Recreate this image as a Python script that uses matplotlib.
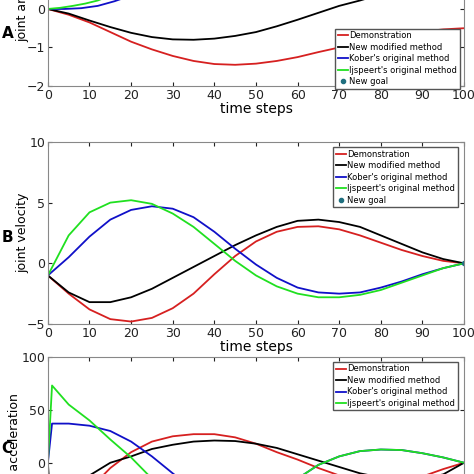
import matplotlib
matplotlib.use("Agg")
import matplotlib.pyplot as plt
import numpy as np

x5 = list(range(0, 101, 5))
pos_red = [0,-0.15,-0.35,-0.6,-0.85,-1.05,-1.22,-1.35,-1.43,-1.45,-1.42,-1.35,-1.25,-1.12,-1.0,-0.88,-0.77,-0.67,-0.59,-0.53,-0.5]
pos_black = [0,-0.12,-0.3,-0.47,-0.62,-0.73,-0.79,-0.8,-0.77,-0.7,-0.6,-0.45,-0.28,-0.1,0.08,0.22,0.38,0.53,0.65,0.72,0.75]
pos_blue_x = [0,4,8,12,16,20]
pos_blue = [0,0,0.02,0.08,0.2,0.35]
pos_green_x = [0,3,6,9,12,15]
pos_green = [0,0.03,0.08,0.14,0.22,0.35]

vel_red = [-1,-2.5,-3.8,-4.6,-4.8,-4.5,-3.7,-2.5,-0.9,0.6,1.8,2.6,3.0,3.05,2.8,2.3,1.7,1.1,0.6,0.2,0]
vel_black = [-1,-2.4,-3.2,-3.2,-2.8,-2.1,-1.2,-0.3,0.6,1.5,2.3,3.0,3.5,3.6,3.4,3.0,2.3,1.6,0.9,0.35,0]
vel_blue = [-1,0.5,2.2,3.6,4.4,4.7,4.5,3.8,2.6,1.2,-0.1,-1.2,-2.0,-2.4,-2.5,-2.4,-2.0,-1.5,-0.9,-0.4,0]
vel_green = [-1,2.3,4.2,5.0,5.2,4.9,4.1,3.0,1.6,0.2,-1.0,-1.9,-2.5,-2.8,-2.8,-2.6,-2.2,-1.6,-1.0,-0.4,0]

acc_x = [0,1] + x5[1:]
acc_red = [-70,-65,-45,-25,-5,10,20,25,27,27,24,18,10,3,-5,-12,-17,-19,-18,-13,-6,0]
acc_black = [0,-60,-50,-12,0,6,13,17,20,21,20.5,18,14,8,2,-4,-10,-14,-16,-15,-11,0]
acc_blue = [0,37,37,35,30,20,6,-10,-25,-38,-45,-42,-30,-15,-2,6,11,12.5,12,9,5,0]
acc_green = [0,73,55,40,22,5,-15,-35,-50,-55,-50,-42,-30,-15,-2,6,11,12.5,12,9,5,0]

labels = ["Demonstration", "New modified method", "Kober's original method", "Ijspeert's original method"]
cols = ["#d62020", "black", "#1010c8", "#20e020"]
goal_col = "#1f6f7f"

fig = plt.figure(figsize=(4.74, 4.74), dpi=100)
L, W = 0.101, 0.878
legkw = dict(fontsize=6, handlelength=1.2, handletextpad=0.2, borderpad=0.3,
             labelspacing=0.3, fancybox=False, edgecolor="#555", framealpha=1)

def style(ax):
    ax.tick_params(direction="in", top=True, right=True, labelsize=9, colors="#222", length=3, pad=2)
    for s in ax.spines.values():
        s.set_color("#888")
    ax.set_xlim(0, 100)
    ax.set_xticks(range(0, 101, 10))

ax1 = fig.add_axes([L, 0.8186, W, 0.325])
ax1.plot(x5, pos_red, color=cols[0], lw=1.3, label=labels[0])
ax1.plot(x5, pos_black, color=cols[1], lw=1.3, label=labels[1])
ax1.plot(pos_blue_x, pos_blue, color=cols[2], lw=1.3, label=labels[2])
ax1.plot(pos_green_x, pos_green, color=cols[3], lw=1.3, label=labels[3])
ax1.plot([], [], 'o', color=goal_col, ms=3, label="New goal")
ax1.set_ylim(-2, 2)
ax1.set_yticks([-2, -1, 0, 1, 2])
style(ax1)
ax1.set_xlabel("time steps", fontsize=10, labelpad=0)
ax1.set_ylabel("joint angle", fontsize=9, labelpad=-2)
ax1.legend(loc="upper left", bbox_to_anchor=(0.68, 0.40), **legkw)

ax2 = fig.add_axes([L, 0.3165, W, 0.384])
ax2.plot(x5, vel_red, color=cols[0], lw=1.3, label=labels[0])
ax2.plot(x5, vel_black, color=cols[1], lw=1.3, label=labels[1])
ax2.plot(x5, vel_blue, color=cols[2], lw=1.3, label=labels[2])
ax2.plot(x5, vel_green, color=cols[3], lw=1.3, label=labels[3])
ax2.plot([100], [0], 'o', color=goal_col, ms=3, label="New goal")
ax2.set_ylim(-5, 10)
ax2.set_yticks([-5, 0, 5, 10])
style(ax2)
ax2.set_xlabel("time steps", fontsize=10, labelpad=0)
ax2.set_ylabel("joint velocity", fontsize=9, labelpad=-2)
ax2.legend(loc="upper right", bbox_to_anchor=(0.995, 0.995), **legkw)

ax3 = fig.add_axes([L, -0.137, W, 0.384])
ax3.plot(acc_x, acc_red, color=cols[0], lw=1.3, label=labels[0])
ax3.plot(acc_x, acc_black, color=cols[1], lw=1.3, label=labels[1])
ax3.plot(acc_x, acc_blue, color=cols[2], lw=1.3, label=labels[2])
ax3.plot(acc_x, acc_green, color=cols[3], lw=1.3, label=labels[3])
ax3.set_ylim(-72, 100)
ax3.set_yticks([-50, 0, 50, 100])
style(ax3)
ax3.set_ylabel("joint acceleration", fontsize=9, labelpad=-2)
ax3.legend(loc="upper right", bbox_to_anchor=(0.995, 0.995), **legkw)

fig.text(0.003, 0.92, "A", fontsize=11, fontweight="bold")
fig.text(0.003, 0.49, "B", fontsize=11, fontweight="bold")
fig.text(0.003, 0.045, "C", fontsize=11, fontweight="bold")

fig.savefig("out.png", dpi=100)
